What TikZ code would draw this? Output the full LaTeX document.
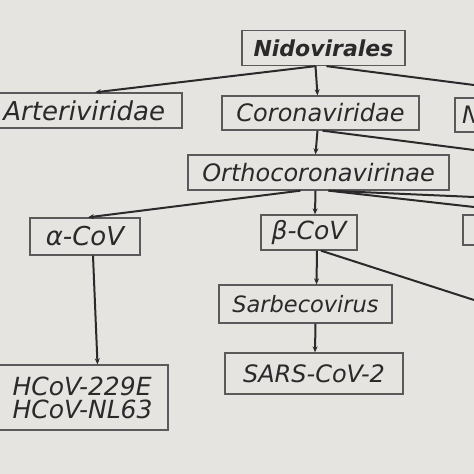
\documentclass[tikz,border=0pt]{standalone}
\usepackage{fontspec}
\setmainfont{DejaVu Sans}
\usetikzlibrary{arrows.meta}
\definecolor{bg}{HTML}{E6E4E1}
\definecolor{ink}{HTML}{2A2A2A}
\definecolor{edge}{HTML}{5A5A5A}
\tikzset{
  taxbox/.style={draw=edge, line width=1.3pt, minimum height=35pt, inner sep=0pt,
    text=ink, font=\fontsize{24}{26}\selectfont\itshape},
  link/.style={draw=ink, line width=2pt, -{Stealth[length=6pt,width=5pt]}},
  plainlink/.style={draw=ink, line width=2pt},
}
\begin{document}
\begin{tikzpicture}[x=1pt,y=-1pt]
\fill[bg] (0,0) rectangle (474,474);
\useasboundingbox (0,0) rectangle (474,474);
\clip (0,0) rectangle (474,474);
% nodes
\node[taxbox, minimum width=163pt, font=\fontsize{22}{24}\selectfont\bfseries\itshape] (nido) at (323.5,48) {Nidovirales};
\node[taxbox, minimum width=194pt, text width=186pt, align=right, font=\fontsize{26}{28}\selectfont\itshape] (arteri) at (85,110.5) {Arteriviridae\hspace*{13pt}};
\node[taxbox, minimum width=197pt, minimum height=34pt] (corona) at (320.5,113) {Coronaviridae};
\node[taxbox, minimum width=104pt, minimum height=34pt, text width=96pt, align=left] (third) at (507,115) {\hspace*{3pt}N};
\node[taxbox, minimum width=261pt] (ortho) at (318.5,172.5) {Orthocoronavirinae};
\node[taxbox, minimum width=110pt, minimum height=37pt, font=\fontsize{26}{28}\selectfont\itshape] (alpha) at (85,236.5) {α-CoV};
\node[taxbox, minimum width=96pt, font=\fontsize{25}{27}\selectfont\itshape] (beta) at (309,232.5) {β-CoV};
\node[taxbox, minimum width=80pt, minimum height=30pt] (gamma) at (503,230) {};
\node[taxbox, minimum width=173pt, minimum height=38pt, font=\fontsize{22.5}{24}\selectfont\itshape] (sarbe) at (305.5,304) {Sarbecovirus};
\node[taxbox, minimum width=178pt, minimum height=41pt] (sars) at (314,373.5) {SARS-CoV-2};
\node[taxbox, minimum width=171pt, minimum height=65pt, align=left, font=\fontsize{25}{23}\selectfont\itshape] (hcov) at (82.5,397.5) {HCoV-229E\\HCoV-NL63};
% free ends
\coordinate (nidoR) at (474,85);
\coordinate (coronaR) at (474,150);
\coordinate (orthoR1) at (474,197);
\coordinate (orthoR2) at (474,207);
\coordinate (betaR) at (474,300);
% connectors
\draw[link] ([xshift=-8pt]nido.south) -- (arteri.north -| 95,0);
\draw[link] ([xshift=-8pt]nido.south) -- ([xshift=-3pt]corona.north);
\draw[plainlink] ([xshift=3pt]nido.south) -- (nidoR);
\draw[link] ([xshift=-3pt]corona.south) -- ([xshift=-3pt]ortho.north);
\draw[plainlink] ([xshift=2pt]corona.south) -- (coronaR);
\draw[link] ([xshift=-18pt]ortho.south) -- ([xshift=3pt]alpha.north);
\draw[link] ([xshift=-3pt]ortho.south) -- ([xshift=6pt]beta.north);
\draw[plainlink] ([xshift=10pt]ortho.south) -- (orthoR1);
\draw[plainlink] ([xshift=10pt]ortho.south) -- (orthoR2);
\draw[link] ([xshift=8pt]beta.south) -- ([xshift=11pt]sarbe.north);
\draw[plainlink] ([xshift=12pt]beta.south) -- (betaR);
\draw[link] ([xshift=10pt]sarbe.south) -- ([xshift=1pt]sars.north);
\draw[link] ([xshift=8pt]alpha.south) -- ([xshift=15pt]hcov.north);
\end{tikzpicture}
\end{document}
